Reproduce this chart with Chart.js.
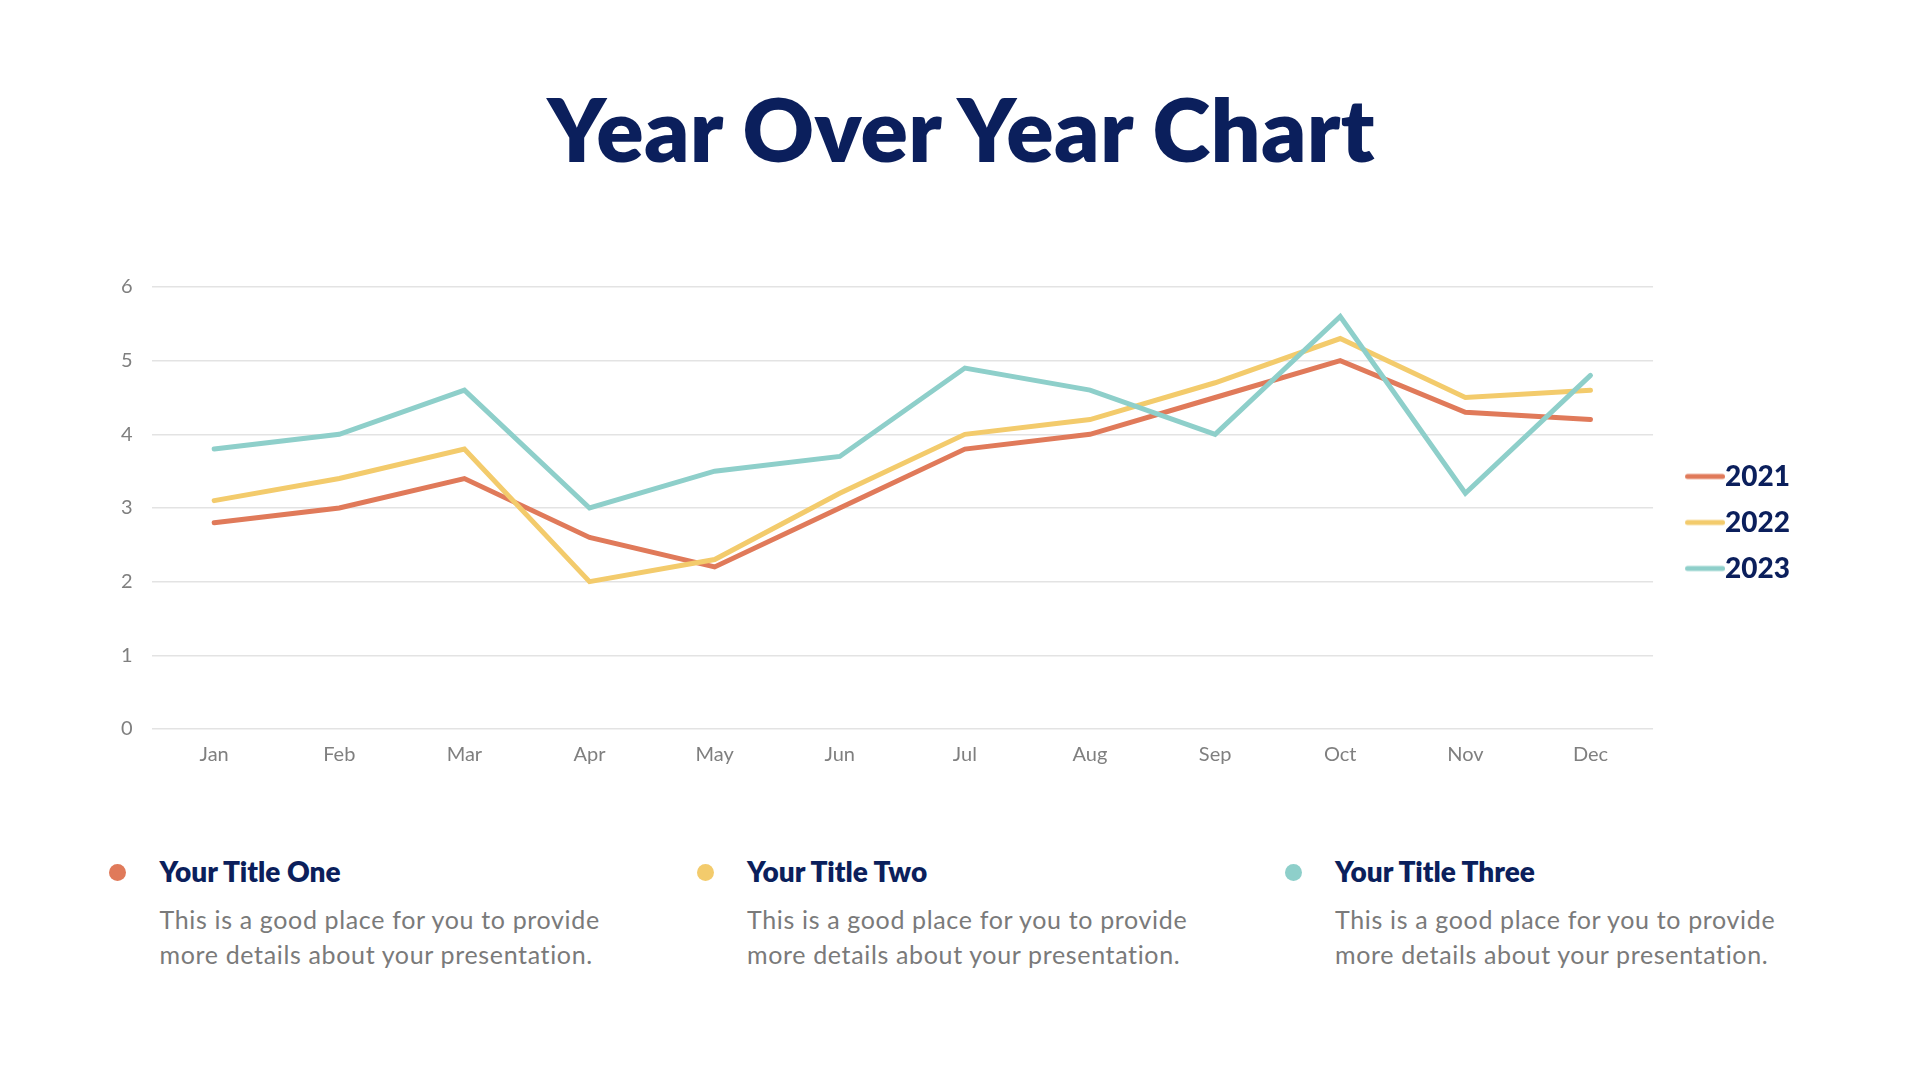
<!DOCTYPE html>
<html>
<head>
<meta charset="utf-8">
<script src="https://cdn.jsdelivr.net/npm/chart.js@4"></script>
<style>
  html, body { margin: 0; padding: 0; background: #ffffff; }
  #page { position: relative; width: 1920px; height: 1080px; overflow: hidden; background: #fff; font-family: Lato, "Open Sans", sans-serif; }
  #title { position: absolute; left: 0; width: 1922px; top: 84px; text-align: center; font-size: 88px; line-height: 88px; font-weight: 800; letter-spacing: 0.3px; color: #0b1f5c; }
  #chartBox { position: absolute; left: 0; top: 200px; width: 1920px; height: 600px; }
  .dot { position: absolute; width: 17px; height: 17px; border-radius: 50%; }
  .ctitle { position: absolute; font-size: 28px; line-height: 28px; font-weight: 800; color: #0b1f5c; }
  .cbody { position: absolute; font-size: 25px; line-height: 35px; letter-spacing: 0.65px; color: #7a7a7a; }
</style>
</head>
<body>
<div id="page">
  <div id="title">Year Over Year Chart</div>
  <div id="chartBox"><canvas id="c"></canvas></div>
  <div id="notes"></div>
</div>
<script>
const categories = ["Jan","Feb","Mar","Apr","May","Jun","Jul","Aug","Sep","Oct","Nov","Dec"];
const seriesNames = ["2021","2022","2023"];
const values2021 = [2.8, 3.0, 3.4, 2.6, 2.2, 3.0, 3.8, 4.0, 4.5, 5.0, 4.3, 4.2];
const values2022 = [3.1, 3.4, 3.8, 2.0, 2.3, 3.2, 4.0, 4.2, 4.7, 5.3, 4.5, 4.6];
const values2023 = [3.8, 4.0, 4.6, 3.0, 3.5, 3.7, 4.9, 4.6, 4.0, 5.6, 3.2, 4.8];
const seriesColors = ["#e07a5a", "#f3cb6c", "#8ecfca"];
const yTicks = [0, 1, 2, 3, 4, 5, 6];
const noteTitles = ["Your Title One", "Your Title Two", "Your Title Three"];
const noteBody = "This is a good place for you to provide<br>more details about your presentation.";

const allValues = [values2021, values2022, values2023];

// notes below the chart
const notes = document.getElementById('notes');
const colX = [117.5, 705, 1293];
noteTitles.forEach((t, i) => {
  const d = document.createElement('div');
  d.className = 'dot';
  d.style.left = (colX[i] - 8.5) + 'px';
  d.style.top = (872 - 8.5) + 'px';
  d.style.background = seriesColors[i];
  notes.appendChild(d);
  const h = document.createElement('div');
  h.className = 'ctitle';
  h.style.left = (colX[i] + 42) + 'px';
  h.style.top = '857px';
  h.textContent = t;
  notes.appendChild(h);
  const b = document.createElement('div');
  b.className = 'cbody';
  b.style.left = (colX[i] + 42) + 'px';
  b.style.top = '902px';
  b.innerHTML = noteBody;
  notes.appendChild(b);
});

// legend icon: a short rounded line sitting right next to the label text
function legendLine(color) {
  const cv = document.createElement('canvas');
  cv.width = 68; cv.height = 8;
  const g = cv.getContext('2d');
  g.strokeStyle = color;
  g.lineWidth = 5;
  g.lineCap = 'round';
  g.beginPath();
  g.moveTo(30.5, 4);
  g.lineTo(65.5, 4);
  g.stroke();
  return cv;
}

const datasets = seriesNames.map((name, i) => ({
  label: name,
  data: allValues[i],
  borderColor: seriesColors[i],
  backgroundColor: seriesColors[i],
  borderWidth: 5,
  borderCapStyle: 'round',
  borderJoinStyle: 'miter',
  pointRadius: 0,
  pointHoverRadius: 0,
  pointStyle: legendLine(seriesColors[i]),
  tension: 0,
  fill: false,
  order: 3 - i
}));

new Chart(document.getElementById('c'), {
  type: 'line',
  data: { labels: categories, datasets },
  options: {
    responsive: true,
    maintainAspectRatio: false,
    animation: false,
    layout: { padding: { left: 102, top: 87, right: 120, bottom: 19 } },
    plugins: {
      tooltip: { enabled: false },
      legend: {
        position: 'right',
        align: 'center',
        fullSize: false,
        title: { display: true, text: ' ', font: { size: 20, lineHeight: 1.25 }, padding: 2 },
        labels: {
          usePointStyle: true,
          pointStyleWidth: 40,
          boxHeight: 28,
          padding: 18,
          color: '#0b1f5c',
          font: { family: 'Lato, sans-serif', size: 28, weight: '900' },
          sort: (a, b) => a.datasetIndex - b.datasetIndex
        }
      }
    },
    scales: {
      x: {
        offset: true,
        grid: { display: false, drawTicks: false },
        border: { display: false },
        ticks: { color: '#7f7f7f', padding: 14, font: { family: 'Lato, sans-serif', size: 20 } }
      },
      y: {
        min: 0,
        max: 6,
        afterBuildTicks: (axis) => { axis.ticks = yTicks.map(v => ({ value: v })); },
        grid: { color: '#e3e3e3', lineWidth: 1.5, drawTicks: false },
        border: { display: false },
        ticks: { color: '#7f7f7f', padding: 19, font: { family: 'Lato, sans-serif', size: 20 } }
      }
    }
  }
});
</script>
</body>
</html>
